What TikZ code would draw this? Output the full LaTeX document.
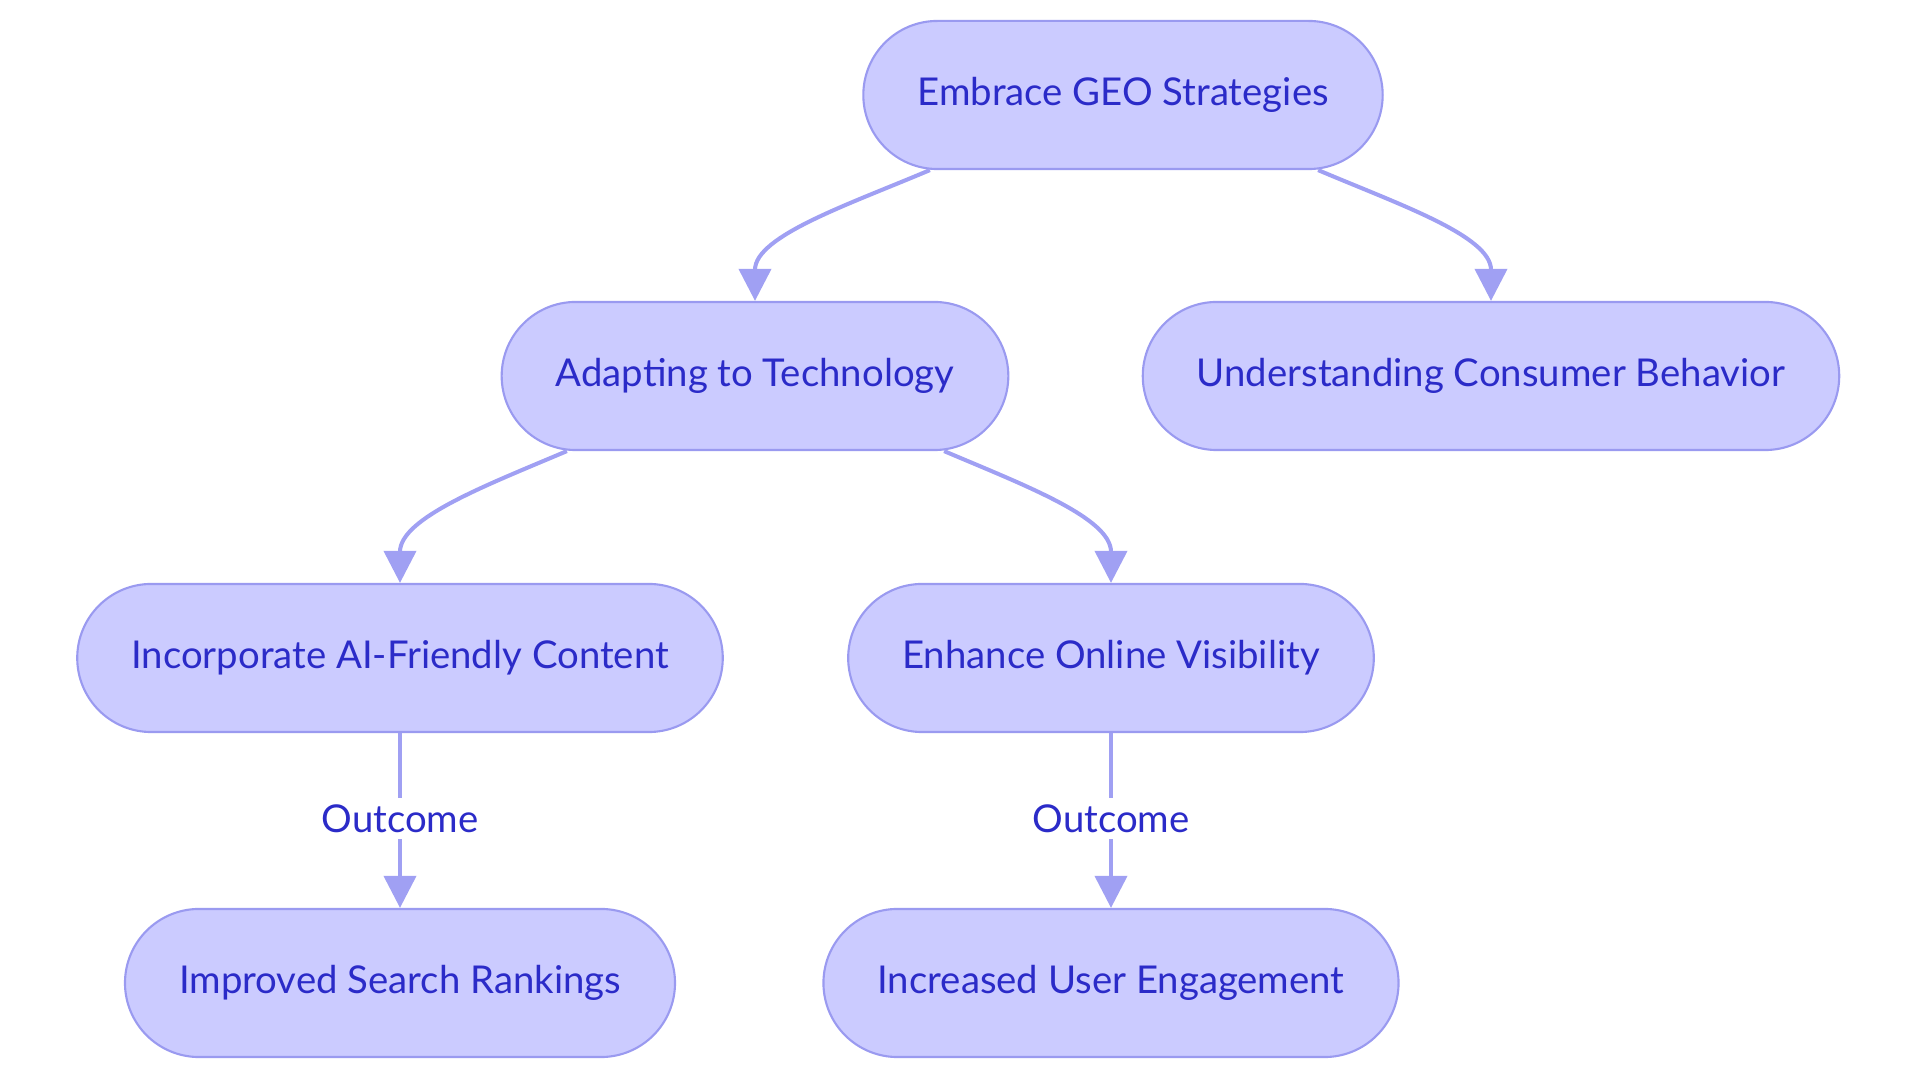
\documentclass[tikz,border=0pt]{standalone}
\usepackage{fontspec}
\setmainfont{Lato}
\usepackage{tikz}
\usetikzlibrary{arrows.meta, positioning}
\definecolor{pillfill}{HTML}{CBCBFF}
\definecolor{pillline}{HTML}{9A9AF0}
\definecolor{pilltext}{HTML}{2B2BC8}
\definecolor{linkline}{HTML}{A0A0F3}

\begin{document}
\begin{tikzpicture}[x=0.01cm, y=-0.01cm,
		pill/.style={draw=pillline, fill=pillfill, text=pilltext, line width=0.6pt,
			rounded corners=0.74cm, minimum height=1.48cm, inner xsep=0.54cm,
			font=\fontsize{10.9}{13}\selectfont},
		link/.style={draw=linkline, line width=1.15pt,
			-{Triangle[length=0.32cm, width=0.32cm]}},
		tag/.style={fill=white, text=pilltext, inner sep=0.06cm,
			font=\fontsize{10.9}{13}\selectfont}]
	\useasboundingbox (0,0) rectangle (1920,1083);
	
	% Nodes
	\node[pill] (geo) at (1123,95) {Embrace GEO Strategies};
	\node[pill] (adapt) at (755,376) {Adapting to Technology};
	\node[pill] (consumer) at (1491,376) {Understanding Consumer Behavior};
	\node[pill] (aicontent) at (400,658) {Incorporate AI-Friendly Content};
	\node[pill] (visible) at (1111,658) {Enhance Online Visibility};
	\node[pill] (rankings) at (400,983) {Improved Search Rankings};
	\node[pill] (engage) at (1111,983) {Increased User Engagement};
	
	% Branches
	\draw[link] ([xshift=-1.93cm]geo.south) .. controls +(-80,34) and +(0,-65) .. (adapt.north);
	\draw[link] ([xshift=1.95cm]geo.south) .. controls +(80,34) and +(0,-65) .. (consumer.north);
	\draw[link] ([xshift=-1.88cm]adapt.south) .. controls +(-80,34) and +(0,-65) .. (aicontent.north);
	\draw[link] ([xshift=1.89cm]adapt.south) .. controls +(80,34) and +(0,-65) .. (visible.north);
	
	% Outcomes
	\foreach \a/\b in {aicontent/rankings, visible/engage} {
		\draw[link] (\a) -- (\b) node[tag, midway, yshift=0.02cm] {Outcome};
	}
\end{tikzpicture}
\end{document}
